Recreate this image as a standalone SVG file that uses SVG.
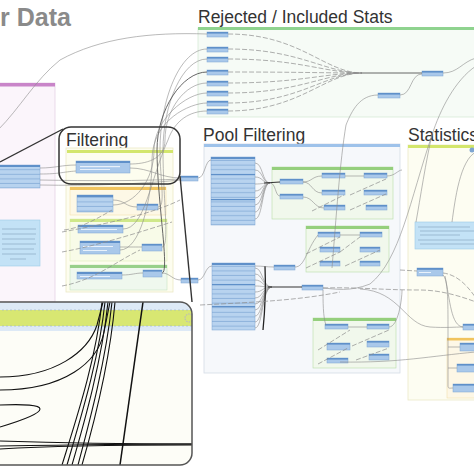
<svg xmlns="http://www.w3.org/2000/svg" width="474" height="474" viewBox="0 0 474 474">
<style>
.ttl{font-family:"Liberation Sans",Arial,sans-serif;fill:#333}
.n{fill:#a9c8ea;stroke:#7ea5d1;stroke-width:.5}
.h{fill:#5f90c9}
.ln{fill:#e8f1fb}
.c{fill:none;stroke:#8c8c8c;stroke-width:.6}
.cd{fill:none;stroke:#8c8c8c;stroke-width:.7;stroke-dasharray:5 2}
.ck{fill:none;stroke:#333;stroke-width:1.1}
.b{fill:none;stroke:#111;stroke-width:1.1}
.tx{stroke:#7fa3bd;stroke-width:.6}
</style>
<defs>
<pattern id="rows" width="6" height="4.6" patternUnits="userSpaceOnUse">
<rect width="6" height="4.6" fill="#b8d3ef"/>
<rect y="3.6" width="6" height="1" fill="#8fb4dc"/>
</pattern>
<clipPath id="insetClip"><rect x="-14" y="302" width="206" height="163" rx="12"/></clipPath>
</defs>
<rect width="474" height="474" fill="#fff"/>

<text class="ttl" x="0" y="26" font-size="25" font-weight="bold" style="fill:#8a8a8a">r Data</text>

<g id="grp-data">
<rect x="-2" y="83" width="57" height="219" fill="#fbf5fb" stroke="#e6d2e6" stroke-width=".8"/>
<rect x="-2" y="83" width="57" height="3.5" fill="#c985c9"/>
</g>
<g id="node-data-reader">
<rect class="n" x="-2" y="165" width="42" height="23" style="fill:url(#rows)"/>
<rect class="h" x="-2" y="165" width="42" height="2"/>
</g>
<g id="note-data">
<rect x="-2" y="220" width="42" height="46" fill="#c3e2f6" stroke="#9ccbe6" stroke-width=".6"/>
<line class="tx" x1="2" y1="229" x2="36" y2="229"/><line class="tx" x1="2" y1="234" x2="36" y2="234"/>
<line class="tx" x1="2" y1="239" x2="35" y2="239"/><line class="tx" x1="2" y1="244" x2="36" y2="244"/>
<line class="tx" x1="2" y1="249" x2="34" y2="249"/><line class="tx" x1="2" y1="254" x2="36" y2="254"/>
<line class="tx" x1="10" y1="259" x2="26" y2="259"/>
</g>

<g id="grp-rejected">
<text class="ttl" x="198" y="23" font-size="17.5">Rejected / Included Stats</text>
<rect x="198" y="28" width="280" height="89" fill="#f6fbf6" stroke="#d7ead7" stroke-width=".8"/>
<rect x="198" y="27" width="280" height="3" fill="#8fd38f"/>
</g>
<g id="rej-1"><rect class="n" x="207" y="32" width="21" height="5"/><rect class="h" x="207" y="32" width="21" height="1.6"/></g>
<g id="rej-2"><rect class="n" x="207" y="47" width="21" height="5"/><rect class="h" x="207" y="47" width="21" height="1.6"/></g>
<g id="rej-3"><rect class="n" x="207" y="57" width="21" height="5"/><rect class="h" x="207" y="57" width="21" height="1.6"/></g>
<g id="rej-4"><rect class="n" x="207" y="70" width="21" height="5"/><rect class="h" x="207" y="70" width="21" height="1.6"/></g>
<g id="rej-5"><rect class="n" x="207" y="81" width="21" height="5"/><rect class="h" x="207" y="81" width="21" height="1.6"/></g>
<g id="rej-6"><rect class="n" x="207" y="91" width="21" height="5"/><rect class="h" x="207" y="91" width="21" height="1.6"/></g>
<g id="rej-7"><rect class="n" x="207" y="101" width="21" height="5"/><rect class="h" x="207" y="101" width="21" height="1.6"/></g>
<g id="rej-8"><rect class="n" x="207" y="109" width="21" height="5"/><rect class="h" x="207" y="109" width="21" height="1.6"/></g>
<g id="rej-merge"><rect class="n" x="422" y="71" width="21" height="5"/><rect class="h" x="422" y="71" width="21" height="1.6"/></g>
<g id="rej-side"><rect class="n" x="378" y="93" width="22" height="5"/><rect class="h" x="378" y="93" width="22" height="1.6"/></g>

<g id="grp-filtering">
<text class="ttl" x="66" y="146" font-size="17.5">Filtering</text>
<rect x="66" y="148" width="107" height="144" fill="#fdfdef" stroke="#ece8c6" stroke-width=".8"/>
<rect x="67" y="150" width="106" height="3" fill="#d3e66c"/>
<rect x="70" y="187" width="96" height="28" fill="#fdf8e6" stroke="#f1dca0" stroke-width=".5"/>
<rect x="70" y="187" width="96" height="3" fill="#f1c45e"/>
<rect x="70" y="219" width="97" height="42" fill="#f8fbe8" stroke="#d9ebb0" stroke-width=".5"/>
<rect x="70" y="219" width="97" height="3" fill="#cfe88a"/>
<rect x="70" y="265" width="97" height="25" fill="#eff8ee" stroke="#bfe0b8" stroke-width=".5"/>
<rect x="70" y="265" width="97" height="3" fill="#98d08a"/>
</g>
<g id="f-1"><rect class="n" x="76" y="161" width="54" height="12"/><rect class="h" x="76" y="161" width="54" height="2"/><rect class="ln" x="80" y="166" width="40" height="1.2"/><rect class="ln" x="80" y="169" width="30" height="1"/></g>
<g id="f-2"><rect class="n" x="77" y="195" width="36" height="17" style="fill:url(#rows)"/><rect class="h" x="77" y="195" width="36" height="2"/></g>
<g id="f-3"><rect class="n" x="137" y="204" width="21" height="6"/><rect class="h" x="137" y="204" width="21" height="1.6"/></g>
<g id="f-4"><rect class="n" x="78" y="225" width="45" height="8"/><rect class="h" x="78" y="225" width="45" height="2"/><rect class="ln" x="81" y="229" width="36" height="1"/></g>
<g id="f-5"><rect class="n" x="80" y="241" width="40" height="13"/><rect class="h" x="80" y="241" width="40" height="2"/><rect class="ln" x="83" y="246" width="30" height="1"/><rect class="ln" x="83" y="250" width="24" height="1"/></g>
<g id="f-6"><rect class="n" x="142" y="244" width="20" height="7"/><rect class="h" x="142" y="244" width="20" height="1.6"/></g>
<g id="f-7"><rect class="n" x="77" y="272" width="45" height="7"/><rect class="h" x="77" y="272" width="45" height="2"/><rect class="ln" x="80" y="276" width="30" height="1"/></g>
<g id="f-8"><rect class="n" x="143" y="270" width="19" height="7"/><rect class="h" x="143" y="270" width="19" height="1.6"/></g>
<g id="f-out-1"><rect class="n" x="181" y="176" width="17" height="5"/><rect class="h" x="181" y="176" width="17" height="1.6"/></g>
<g id="f-out-2"><rect class="n" x="181" y="278" width="17" height="5"/><rect class="h" x="181" y="278" width="17" height="1.6"/></g>

<g id="grp-pool">
<text class="ttl" x="203" y="141" font-size="17.5">Pool Filtering</text>
<rect x="204" y="144" width="196" height="229" fill="#f6f8fb" stroke="#d5dbe6" stroke-width=".8"/>
<rect x="204" y="144" width="196" height="3" fill="#9ec2ea"/>
<rect x="272" y="167" width="121" height="52" fill="#f1f8ec" stroke="#b9dca8" stroke-width=".6"/>
<rect x="272" y="167" width="121" height="3" fill="#95cf7d"/>
<rect x="306" y="226" width="83" height="46" fill="#f1f8ec" stroke="#b9dca8" stroke-width=".6"/>
<rect x="306" y="226" width="83" height="3" fill="#95cf7d"/>
<rect x="313" y="318" width="83" height="50" fill="#f1f8ec" stroke="#b9dca8" stroke-width=".6"/>
<rect x="313" y="318" width="83" height="3" fill="#95cf7d"/>
</g>
<g id="pool-list-1"><rect class="n" x="211" y="157" width="44" height="68" style="fill:url(#rows)"/><rect class="h" x="211" y="157" width="44" height="2"/><rect class="h" x="211" y="174" width="44" height="1.2"/><rect class="h" x="211" y="199" width="44" height="1.2"/></g>
<g id="pool-list-2"><rect class="n" x="212" y="263" width="43" height="67" style="fill:url(#rows)"/><rect class="h" x="212" y="263" width="43" height="2"/><rect class="h" x="212" y="284" width="43" height="1.2"/><rect class="h" x="212" y="306" width="43" height="1.2"/></g>
<g id="p1-a"><rect class="n" x="280" y="179" width="23" height="5"/><rect class="h" x="280" y="179" width="23" height="1.6"/></g>
<g id="p1-b"><rect class="n" x="280" y="194" width="23" height="5"/><rect class="h" x="280" y="194" width="23" height="1.6"/></g>
<g id="p1-c"><rect class="n" x="322" y="173" width="23" height="5"/><rect class="h" x="322" y="173" width="23" height="1.6"/></g>
<g id="p1-d"><rect class="n" x="322" y="190" width="23" height="5"/><rect class="h" x="322" y="190" width="23" height="1.6"/></g>
<g id="p1-e"><rect class="n" x="324" y="205" width="21" height="5"/><rect class="h" x="324" y="205" width="21" height="1.6"/></g>
<g id="p1-f"><rect class="n" x="364" y="173" width="23" height="5"/><rect class="h" x="364" y="173" width="23" height="1.6"/></g>
<g id="p1-g"><rect class="n" x="364" y="190" width="23" height="5"/><rect class="h" x="364" y="190" width="23" height="1.6"/></g>
<g id="p1-h"><rect class="n" x="366" y="205" width="21" height="5"/><rect class="h" x="366" y="205" width="21" height="1.6"/></g>
<g id="p2-a"><rect class="n" x="318" y="232" width="22" height="5"/><rect class="h" x="318" y="232" width="22" height="1.6"/></g>
<g id="p2-b"><rect class="n" x="360" y="232" width="22" height="5"/><rect class="h" x="360" y="232" width="22" height="1.6"/></g>
<g id="p2-c"><rect class="n" x="320" y="247" width="20" height="5"/><rect class="h" x="320" y="247" width="20" height="1.6"/></g>
<g id="p2-d"><rect class="n" x="360" y="247" width="20" height="5"/><rect class="h" x="360" y="247" width="20" height="1.6"/></g>
<g id="p2-e"><rect class="n" x="320" y="261" width="20" height="5"/><rect class="h" x="320" y="261" width="20" height="1.6"/></g>
<g id="p2-f"><rect class="n" x="360" y="261" width="20" height="5"/><rect class="h" x="360" y="261" width="20" height="1.6"/></g>
<g id="pool-n1"><rect class="n" x="274" y="265" width="21" height="5"/><rect class="h" x="274" y="265" width="21" height="1.6"/></g>
<g id="pool-n2"><rect class="n" x="302" y="285" width="21" height="5"/><rect class="h" x="302" y="285" width="21" height="1.6"/></g>
<g id="p3-a"><rect class="n" x="325" y="324" width="23" height="5"/><rect class="h" x="325" y="324" width="23" height="1.6"/></g>
<g id="p3-b"><rect class="n" x="367" y="324" width="22" height="5"/><rect class="h" x="367" y="324" width="22" height="1.6"/></g>
<g id="p3-c"><rect class="n" x="327" y="343" width="23" height="7"/><rect class="h" x="327" y="343" width="23" height="1.6"/></g>
<g id="p3-d"><rect class="n" x="367" y="341" width="22" height="6"/><rect class="h" x="367" y="341" width="22" height="1.6"/></g>
<g id="p3-e"><rect class="n" x="327" y="358" width="21" height="5"/><rect class="h" x="327" y="358" width="21" height="1.6"/></g>
<g id="p3-f"><rect class="n" x="369" y="354" width="20" height="6"/><rect class="h" x="369" y="354" width="20" height="1.6"/></g>

<g id="grp-stats">
<text class="ttl" x="408" y="141" font-size="17.5">Statistics</text>
<rect x="408" y="145" width="70" height="255" fill="#fdfdf2" stroke="#ece8c8" stroke-width=".8"/>
<rect x="408" y="145" width="70" height="3" fill="#d3e66c"/>
<rect x="447" y="338" width="31" height="60" fill="#fdf7e6" stroke="#f1dca0" stroke-width=".5"/>
<rect x="447" y="338" width="31" height="2.5" fill="#f1c45e"/>
</g>
<g id="stats-src"><circle cx="472" cy="150" r="2.5" fill="#7ea5d1"/></g>
<g id="note-stats">
<rect x="415" y="222" width="62" height="27" fill="#c3e2f6" stroke="#9ccbe6" stroke-width=".6"/>
<line class="tx" x1="418" y1="227" x2="470" y2="227"/><line class="tx" x1="420" y1="231" x2="474" y2="231"/>
<line class="tx" x1="420" y1="235" x2="460" y2="235"/><line class="tx" x1="418" y1="240" x2="474" y2="240"/>
<line class="tx" x1="420" y1="244" x2="474" y2="244"/>
</g>
<g id="s-1"><rect class="n" x="417" y="268" width="26" height="8"/><rect class="h" x="417" y="268" width="26" height="1.8"/><rect class="ln" x="419" y="272" width="12" height="1"/></g>
<g id="s-2"><rect class="n" x="463" y="324" width="13" height="6"/><rect class="h" x="463" y="324" width="13" height="1.6"/></g>
<g id="s-3"><rect class="n" x="460" y="343" width="16" height="8"/><rect class="h" x="460" y="343" width="16" height="1.6"/></g>
<g id="s-4"><rect class="n" x="457" y="364" width="19" height="8"/><rect class="h" x="457" y="364" width="19" height="1.6"/></g>
<g id="s-5"><rect class="n" x="453" y="384" width="23" height="8"/><rect class="h" x="453" y="384" width="23" height="1.6"/></g>

<g id="connectors">
<path class="c" d="M-2,130 C20,108 35,80 60,60 C100,38 150,32 207,34"/>
<path class="c" d="M158,207 C166,207 160,180 160,150 C160,100 180,49 207,49"/>
<path class="c" d="M162,247 C170,247 163,200 163,150 C163,105 182,59 207,59"/>
<path class="ck" d="M162,273 C170,273 157,200 157,150 C157,110 182,72 207,72" style="stroke:#555;stroke-width:.9"/>
<path class="c" d="M130,164 C145,164 165,160 165,140 C165,110 185,83 207,83"/>
<path class="c" d="M113,205 C135,205 154,180 154,150 C154,120 186,93 207,93"/>
<path class="c" d="M120,250 C140,250 152,200 152,160 C152,120 190,103 207,103"/>
<path class="c" d="M123,229 C145,229 150,180 168,140 C175,120 190,111 207,111"/>

<path class="cd" d="M228,34 C300,34 325,73 362,73"/>
<path class="cd" d="M228,49 C300,49 325,73 362,73"/>
<path class="cd" d="M228,59 C300,59 325,73 362,73"/>
<path class="cd" d="M228,72 C300,72 325,73 362,73"/>
<path class="cd" d="M228,83 C300,83 325,73 362,73"/>
<path class="cd" d="M228,93 C300,93 325,73 362,73"/>
<path class="cd" d="M228,103 C300,103 325,73 362,73"/>
<path class="cd" d="M228,111 C300,111 325,73 362,73"/>
<path class="ck" d="M362,73 L422,73" style="stroke:#555;stroke-width:.9"/>
<path class="c" d="M443,73 C458,73 462,62 476,58"/>
<path class="c" d="M400,95 C412,95 410,74 422,74"/>
<path class="c" d="M378,95 C360,95 352,110 346,125 C340,160 336,220 332,268"/>
<path class="c" d="M476,66 C455,80 440,110 432,135 C426,160 420,200 416,222"/>
<path class="c" d="M432,135 C410,200 400,260 370,284 C350,292 335,289 323,288"/>

<path class="c" d="M40,168 C55,168 62,165 76,165"/>
<path class="c" d="M40,174 C60,174 62,172 76,171"/>
<path class="c" d="M40,180 C90,181 140,181 181,179"/>
<path class="c" d="M40,185 C90,186 140,184 181,180"/>
<path class="c" d="M130,168 C150,168 160,178 181,178"/>
<path class="c" d="M113,200 C125,200 125,207 137,207"/>
<path class="c" d="M120,247 C130,247 132,247 142,247"/>
<path class="c" d="M122,275 C132,275 135,273 143,273"/>
<path class="c" d="M162,273 C170,273 172,280 181,280"/>
<path class="cd" d="M62,232 C100,225 150,215 180,200"/>
<path class="cd" d="M62,252 C100,245 140,232 172,222"/>
<path class="cd" d="M62,286 C95,280 115,262 140,250"/>
<path class="cd" d="M64,230 C80,228 95,220 112,210"/>

<path class="c" d="M198,178 C205,178 205,160 211,160"/>
<path class="c" d="M198,280 C205,280 205,266 212,266"/>
<path class="c" d="M255,163 C263,163 262,183 270,183"/>
<path class="c" d="M255,170 C263,170 262,183 270,183"/>
<path class="c" d="M255,177 C263,177 262,183 270,183"/>
<path class="c" d="M255,184 C263,184 262,183 270,183"/>
<path class="c" d="M255,191 C263,191 262,183 270,183"/>
<path class="c" d="M255,198 C263,198 262,183 270,183"/>
<path class="c" d="M255,205 C263,205 262,183 270,183"/>
<path class="c" d="M255,212 C263,212 262,183 270,183"/>
<path class="c" d="M255,219 C263,219 262,183 270,183"/>
<path class="ck" d="M264,183 L280,182"/>
<path class="c" d="M270,183 C276,183 275,196 280,196"/>
<path class="c" d="M303,182 C312,182 312,176 322,176"/>
<path class="c" d="M303,182 C312,182 312,193 322,193"/>
<path class="c" d="M303,197 C313,197 314,208 324,208"/>
<path class="c" d="M345,176 L364,176"/>
<path class="cd" d="M312,211 L344,195"/>
<path class="cd" d="M350,210 L386,194"/>
<path class="cd" d="M350,195 L386,179"/>
<path class="c" d="M387,176 C395,176 398,170 402,170"/>

<path class="c" d="M255,268 C263,268 262,287 272,287"/>
<path class="c" d="M255,274 C263,274 262,287 272,287"/>
<path class="c" d="M255,280 C263,280 262,287 272,287"/>
<path class="c" d="M255,286 C263,286 262,287 272,287"/>
<path class="c" d="M255,292 C263,292 262,287 272,287"/>
<path class="c" d="M255,298 C263,298 262,287 272,287"/>
<path class="c" d="M255,304 C263,304 262,287 272,287"/>
<path class="c" d="M255,310 C263,310 262,287 272,287"/>
<path class="c" d="M255,316 C263,316 262,287 272,287"/>
<path class="c" d="M255,322 C263,322 262,287 272,287"/>
<path class="c" d="M255,328 C263,328 262,287 272,287"/>
<path class="ck" d="M265,266 C266,290 265,310 263,330" style="stroke:#222;stroke-width:1.3"/>
<path class="ck" d="M268,287 L302,287"/>
<path class="c" d="M255,266 C263,266 266,267 274,267"/>
<path class="c" d="M295,267 C305,267 306,250 318,235"/>
<path class="cd" d="M306,254 L340,237"/>
<path class="cd" d="M340,252 L360,237"/>
<path class="cd" d="M306,268 L340,252"/>
<path class="cd" d="M345,266 L380,250"/>
<path class="c" d="M340,235 L360,235"/>
<path class="cd" d="M323,288 C360,287 380,290 420,290 C440,290 460,296 476,302"/>
<path class="c" d="M323,290 C323,300 323,318 326,325"/>
<path class="c" d="M360,289 C400,291 405,325 430,327 C445,328 455,327 463,327"/>
<path class="c" d="M348,327 L367,327"/>
<path class="cd" d="M318,350 L350,330"/>
<path class="cd" d="M352,346 L389,330"/>
<path class="cd" d="M318,364 L348,348"/>
<path class="cd" d="M356,360 L389,348"/>
<path class="c" d="M340,362 C400,363 430,356 476,352"/>
<path class="c" d="M389,327 C398,327 402,300 402,290"/>

<path class="cd" d="M400,270 L417,271"/>
<path class="cd" d="M443,273 C460,275 470,290 476,298"/>
<path class="c" d="M443,275 C448,280 448,300 448,330 L448,386 C448,389 450,388 453,388"/>
<path class="c" d="M445,276 C450,300 451,326 463,327"/>
<path class="c" d="M448,347 L460,347"/>
<path class="c" d="M448,368 L457,368"/>
<path class="cd" d="M200,305 C260,302 300,300 340,292"/>
<path class="c" d="M476,152 C460,160 455,200 452,222"/>

<rect x="59" y="127" width="121" height="57" rx="12" fill="none" stroke="#333" stroke-width="1.5"/>
<path d="M0,162 L63,129" fill="none" stroke="#333" stroke-width="1.4"/>
<path d="M180,176 L192,302" fill="none" stroke="#333" stroke-width="1.4"/>
</g>

<g id="inset">
<g clip-path="url(#insetClip)">
<rect x="-14" y="302" width="206" height="163" fill="#fdfdf7"/>
<rect x="-14" y="302" width="206" height="8" fill="#dde9f6"/>
<rect x="-14" y="310" width="206" height="16" fill="#d8e772"/>
<rect x="-14" y="326" width="206" height="5" fill="#dde9f6"/>
<line x1="-14" y1="310" x2="192" y2="310" stroke="#9ab2cf" stroke-width=".6" stroke-dasharray="2 2"/>
<line x1="-14" y1="326" x2="192" y2="326" stroke="#9ab2cf" stroke-width=".6" stroke-dasharray="2 2"/>
<circle cx="189" cy="318" r="4" fill="none" stroke="#bbb" stroke-width="1.2" stroke-dasharray="1.5 1"/>
<path class="b" d="M0,377 C55,377 88,352 97,325 L103,302"/>
<path class="b" d="M0,390 C65,390 98,362 104,332 L110,302"/>
<path class="b" d="M0,405 C25,404 40,405 40,409 C40,414 20,421 0,427"/>
<path class="b" d="M102,302 C96,360 76,420 62,465"/>
<path class="b" d="M105,302 C99,360 80,420 67,465"/>
<path class="b" d="M108,302 C102,360 85,420 72,465"/>
<path class="b" d="M112,302 C106,360 90,420 78,465"/>
<path class="b" d="M115,302 C110,360 95,420 82,465"/>
<path class="b" d="M143,302 L120,465" style="stroke-width:1.5"/>
<path class="b" d="M0,441 C60,443 120,444 192,444"/>
<path class="b" d="M0,446 C60,445 120,444 192,444"/>
<path class="b" d="M0,449 C50,446 100,445 192,445"/>
</g>
<rect x="-14" y="302" width="206" height="163" rx="12" fill="none" stroke="#555" stroke-width="1.5"/>
</g>
</svg>
